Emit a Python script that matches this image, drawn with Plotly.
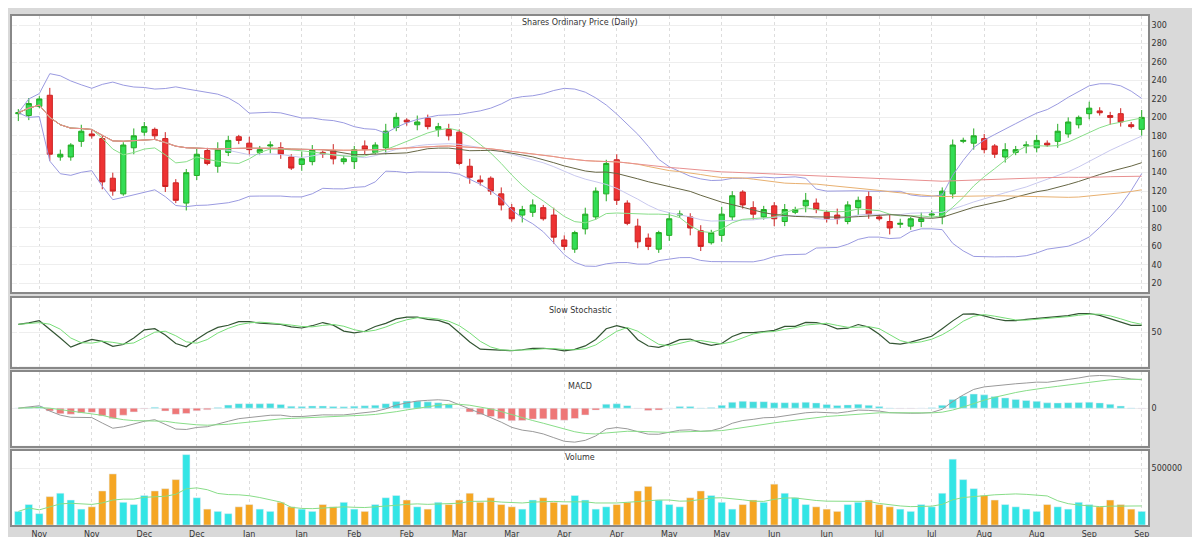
import numpy as np
import plotly.graph_objects as go
from plotly.subplots import make_subplots

close_y = [95,85,80,140,140,130,115,120,170,180,130,120,110,120,175,190,160,140,150,135,
           125,125,135,135,130,140,155,145,135,140,145,145,135,135,130,115,100,105,105,110,
           110,120,150,165,170,180,195,210,200,195,210,230,240,225,205,180,150,190,215,235,
           240,225,210,205,220,240,225,205,185,195,205,200,210,200,200,190,200,210,210,195,
           190,205,210,220,215,210,210,205,180,130,125,120,135,140,135,135,130,125,130,115,
           105,100,90,95,100,105,110,100]
closes = [round(300 - v) for v in close_y]
opens = [200] + closes[:-1]
opens = [o + (4 if i % 3 == 0 else -3) for i, o in enumerate(opens)]
wick = [4, 6, 3, 8, 5, 2, 7, 4]
highs = [max(o, c) + wick[i % 8] for i, (o, c) in enumerate(zip(opens, closes))]
lows = [min(o, c) - wick[(i + 3) % 8] for i, (o, c) in enumerate(zip(opens, closes))]
volume = [12,18,10,25,28,22,14,16,30,45,20,18,26,30,32,40,62,24,14,12,
          10,16,18,14,12,20,16,14,12,18,16,20,14,12,18,24,26,22,16,14,
          20,18,22,28,20,24,18,16,14,22,24,20,18,26,22,14,16,18,20,30,
          34,22,18,16,24,30,26,20,14,18,22,20,36,28,24,18,16,14,12,18,
          20,22,18,16,14,12,18,16,28,58,40,32,26,22,18,16,14,12,18,16,
          14,20,18,16,22,18,14,12]
month_pos = list(range(2, 108, 5))
month_txt = ["Nov","Nov","Dec","Dec","Jan","Jan","Feb","Feb","Mar","Mar","Apr","Apr",
             "May","May","Jun","Jun","Jul","Jul","Aug","Aug","Sep","Sep"]

x = list(range(len(closes)))
c = np.array(closes, float)
def sma(a, n):
    return np.array([a[max(0, i-n+1):i+1].mean() for i in range(len(a))])
def ema(a, n):
    k = 2/(n+1); out = [a[0]]
    for v in a[1:]: out.append(out[-1]*(1-k)+v*k)
    return np.array(out)
ma20 = sma(c, 20)
sd = np.array([c[max(0, i-19):i+1].std() for i in range(len(c))])
ma10, ma30, ma60, ma100 = sma(c, 8), sma(c, 30), sma(c, 60), sma(c, 100)
hh = np.array([max(highs[max(0,i-13):i+1]) for i in x]); ll = np.array([min(lows[max(0,i-13):i+1]) for i in x])
k = 100*(c-ll)/np.maximum(hh-ll, 1); ks = sma(k, 3); ds = sma(ks, 3)
macd = ema(c, 12)-ema(c, 26); sig = ema(macd, 9); hist = macd-sig
vma = sma(np.array(volume, float), 10)

fig = make_subplots(rows=4, cols=1, shared_xaxes=True, vertical_spacing=0.01,
                    row_heights=[0.56, 0.14, 0.15, 0.15])
fig.add_trace(go.Scatter(x=x, y=ma20+2*sd, line=dict(color="#9a9ae0", width=1)), 1, 1)
fig.add_trace(go.Scatter(x=x, y=ma20-2*sd, line=dict(color="#9a9ae0", width=1)), 1, 1)
fig.add_trace(go.Scatter(x=x, y=ma20, line=dict(color="#c8c8ee", width=1)), 1, 1)
for m, col in [(ma10, "#88dd88"), (ma30, "#666644"), (ma60, "#e8b070"), (ma100, "#e89090")]:
    fig.add_trace(go.Scatter(x=x, y=m, line=dict(color=col, width=1)), 1, 1)
fig.add_trace(go.Candlestick(x=x, open=opens, high=highs, low=lows, close=closes,
    increasing=dict(line=dict(color="#22aa22", width=1), fillcolor="#33dd55"),
    decreasing=dict(line=dict(color="#cc2222", width=1), fillcolor="#ee3333"),
    whiskerwidth=0), 1, 1)
fig.add_trace(go.Scatter(x=x, y=ks, line=dict(color="#335533", width=1.2)), 2, 1)
fig.add_trace(go.Scatter(x=x, y=ds, line=dict(color="#77dd77", width=1)), 2, 1)
fig.add_trace(go.Bar(x=x, y=hist, marker_color=["#44dddd" if h >= 0 else "#ee7777" for h in hist]), 3, 1)
fig.add_trace(go.Scatter(x=x, y=macd, line=dict(color="#999999", width=1)), 3, 1)
fig.add_trace(go.Scatter(x=x, y=sig, line=dict(color="#88dd88", width=1)), 3, 1)
vcol = ["#33e5e5" if cl >= op else "#f5a623" for op, cl in zip(opens, closes)]
fig.add_trace(go.Bar(x=x, y=volume, marker_color=vcol), 4, 1)
fig.add_trace(go.Scatter(x=x, y=vma, line=dict(color="#88dd88", width=1)), 4, 1)

fig.update_layout(width=1200, height=537, showlegend=False, paper_bgcolor="#d9d9d9",
    plot_bgcolor="white", margin=dict(l=2, r=60, t=8, b=20), bargap=0.3,
    font=dict(family="DejaVu Sans", size=8, color="#333"))
fig.update_xaxes(showgrid=True, gridcolor="#dddddd", griddash="dot", tickvals=month_pos,
    ticktext=month_txt, mirror=True, showline=True, linecolor="#888", linewidth=2,
    rangeslider_visible=False, range=[-0.6, len(x)-0.4])
fig.update_xaxes(showticklabels=True, row=4, col=1)
fig.update_yaxes(side="right", showgrid=True, gridcolor="#eeeeee", mirror=True,
    showline=True, linecolor="#888", linewidth=2, zeroline=False)
fig.update_yaxes(range=[10, 310], dtick=20, row=1, col=1)
fig.update_yaxes(range=[-35, 135], tickvals=[50], row=2, col=1)
fig.update_yaxes(tickvals=[0], row=3, col=1)
fig.update_yaxes(tickvals=[50], ticktext=["500000"], row=4, col=1)
for txt, yy in [("Shares Ordinary Price (Daily)", 1.0), ("Slow Stochastic", 0.435),
                ("MACD", 0.285), ("Volume", 0.145)]:
    fig.add_annotation(text=txt, x=0.5, y=yy, xref="paper", yref="paper",
                       showarrow=False, yanchor="top", font=dict(size=8, color="#333"))
fig.write_html("out.html")
